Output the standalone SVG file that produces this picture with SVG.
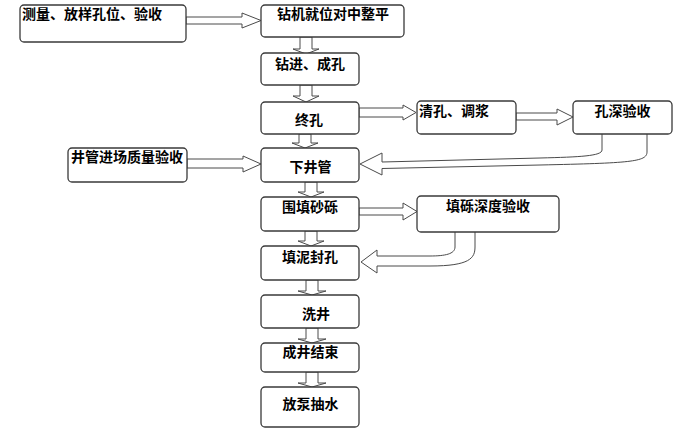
<svg xmlns="http://www.w3.org/2000/svg" width="690" height="436" viewBox="0 0 690 436">
<style>
.box{fill:#fff;stroke:#3a3a3a;stroke-width:1.3}
.arr{fill:#fff;stroke:#4a4a4a;stroke-width:1}
text{font-family:"Noto Sans CJK SC","Liberation Sans",sans-serif;font-size:14px;font-weight:bold;fill:#000}
.c{text-anchor:middle}
</style>
<rect width="690" height="436" fill="#fff"/>
<g id="connectors">
<path class="arr" d="M186,17 H242 V13 L261,20.5 L242,28 V24 H186 Z"/>
<path class="arr" d="M359,108 H403 V105 L416,112.5 L403,120 V117 H359 Z"/>
<path class="arr" d="M516,113 H557 V109 L573,117 L557,125 V120 H516 Z"/>
<path class="arr" d="M187,159 H243 V156 L261,164 L243,172 V168 H187 Z"/>
<path class="arr" d="M359,208 H403 V203 L417,211.5 L403,220 V215 H359 Z"/>
<path class="arr" d="M300,37 V49 H293 L306,54 L319,49 H312 V37 Z"/>
<path class="arr" d="M300,85 V96 H293 L306,102 L319,96 H312 V85 Z"/>
<path class="arr" d="M299,134 V143 H292 L305,148 L318,143 H311 V134 Z"/>
<path class="arr" d="M305,182 V192 H298 L311,197 L324,192 H317 V182 Z"/>
<path class="arr" d="M305,231 V241 H298 L311,246 L324,241 H317 V231 Z"/>
<path class="arr" d="M306,280 V291 H298 L312,295 L326,291 H318 V280 Z"/>
<path class="arr" d="M306,328 V339 H298 L312,343 L326,339 H318 V328 Z"/>
<path class="arr" d="M306,372 V383 H298 L312,387 L326,383 H318 V372 Z"/>
<path class="arr" d="M602,133 V150 C602,156 580,157 540,158 L382,162 V153 L360,164 L382,175 V168.5 L540,165 C630,163 647,162 647,152 V133 Z"/>
<path class="arr" d="M455,231 V247 C455,254 445,256 430,256 L377,256 V250 L361,262 L377,273 V266 L430,266 C470,266 475,258 475,247 V231 Z"/>
</g>
<g id="n1"><rect class="box" x="20" y="5" width="166" height="37" rx="4"/><text x="22" y="19">测量、放样孔位、验收</text></g>
<g id="n2"><rect class="box" x="261" y="5" width="143" height="32" rx="4"/><text class="c" x="333" y="19">钻机就位对中整平</text></g>
<g id="n3"><rect class="box" x="261" y="53" width="98" height="32" rx="4"/><text class="c" x="310" y="69">钻进、成孔</text></g>
<g id="n4"><rect class="box" x="261" y="102" width="98" height="32" rx="4"/><text class="c" x="309" y="125">终孔</text></g>
<g id="n5"><rect class="box" x="417" y="101" width="99" height="33" rx="4"/><text x="419" y="116">清孔、调浆</text></g>
<g id="n6"><rect class="box" x="573" y="101" width="99" height="33" rx="4"/><text class="c" x="622.5" y="116">孔深验收</text></g>
<g id="n7"><rect class="box" x="68" y="148" width="119" height="34" rx="4"/><text x="71" y="162">井管进场质量验收</text></g>
<g id="n8"><rect class="box" x="261" y="148" width="98" height="34" rx="4"/><text class="c" x="310.5" y="172">下井管</text></g>
<g id="n9"><rect class="box" x="261" y="197" width="98" height="34" rx="4"/><text class="c" x="310" y="212">围填砂砾</text></g>
<g id="n10"><rect class="box" x="417" y="196" width="142" height="36" rx="4"/><text class="c" x="488" y="211">填砾深度验收</text></g>
<g id="n11"><rect class="box" x="261" y="246" width="98" height="34" rx="4"/><text class="c" x="310" y="262">填泥封孔</text></g>
<g id="n12"><rect class="box" x="261" y="295" width="98" height="33" rx="4"/><text class="c" x="316" y="319">洗井</text></g>
<g id="n13"><rect class="box" x="261" y="343" width="98" height="29" rx="4"/><text class="c" x="310.5" y="357">成井结束</text></g>
<g id="n14"><rect class="box" x="261" y="387" width="98" height="40" rx="4"/><text class="c" x="310.5" y="409">放泵抽水</text></g>
</svg>
